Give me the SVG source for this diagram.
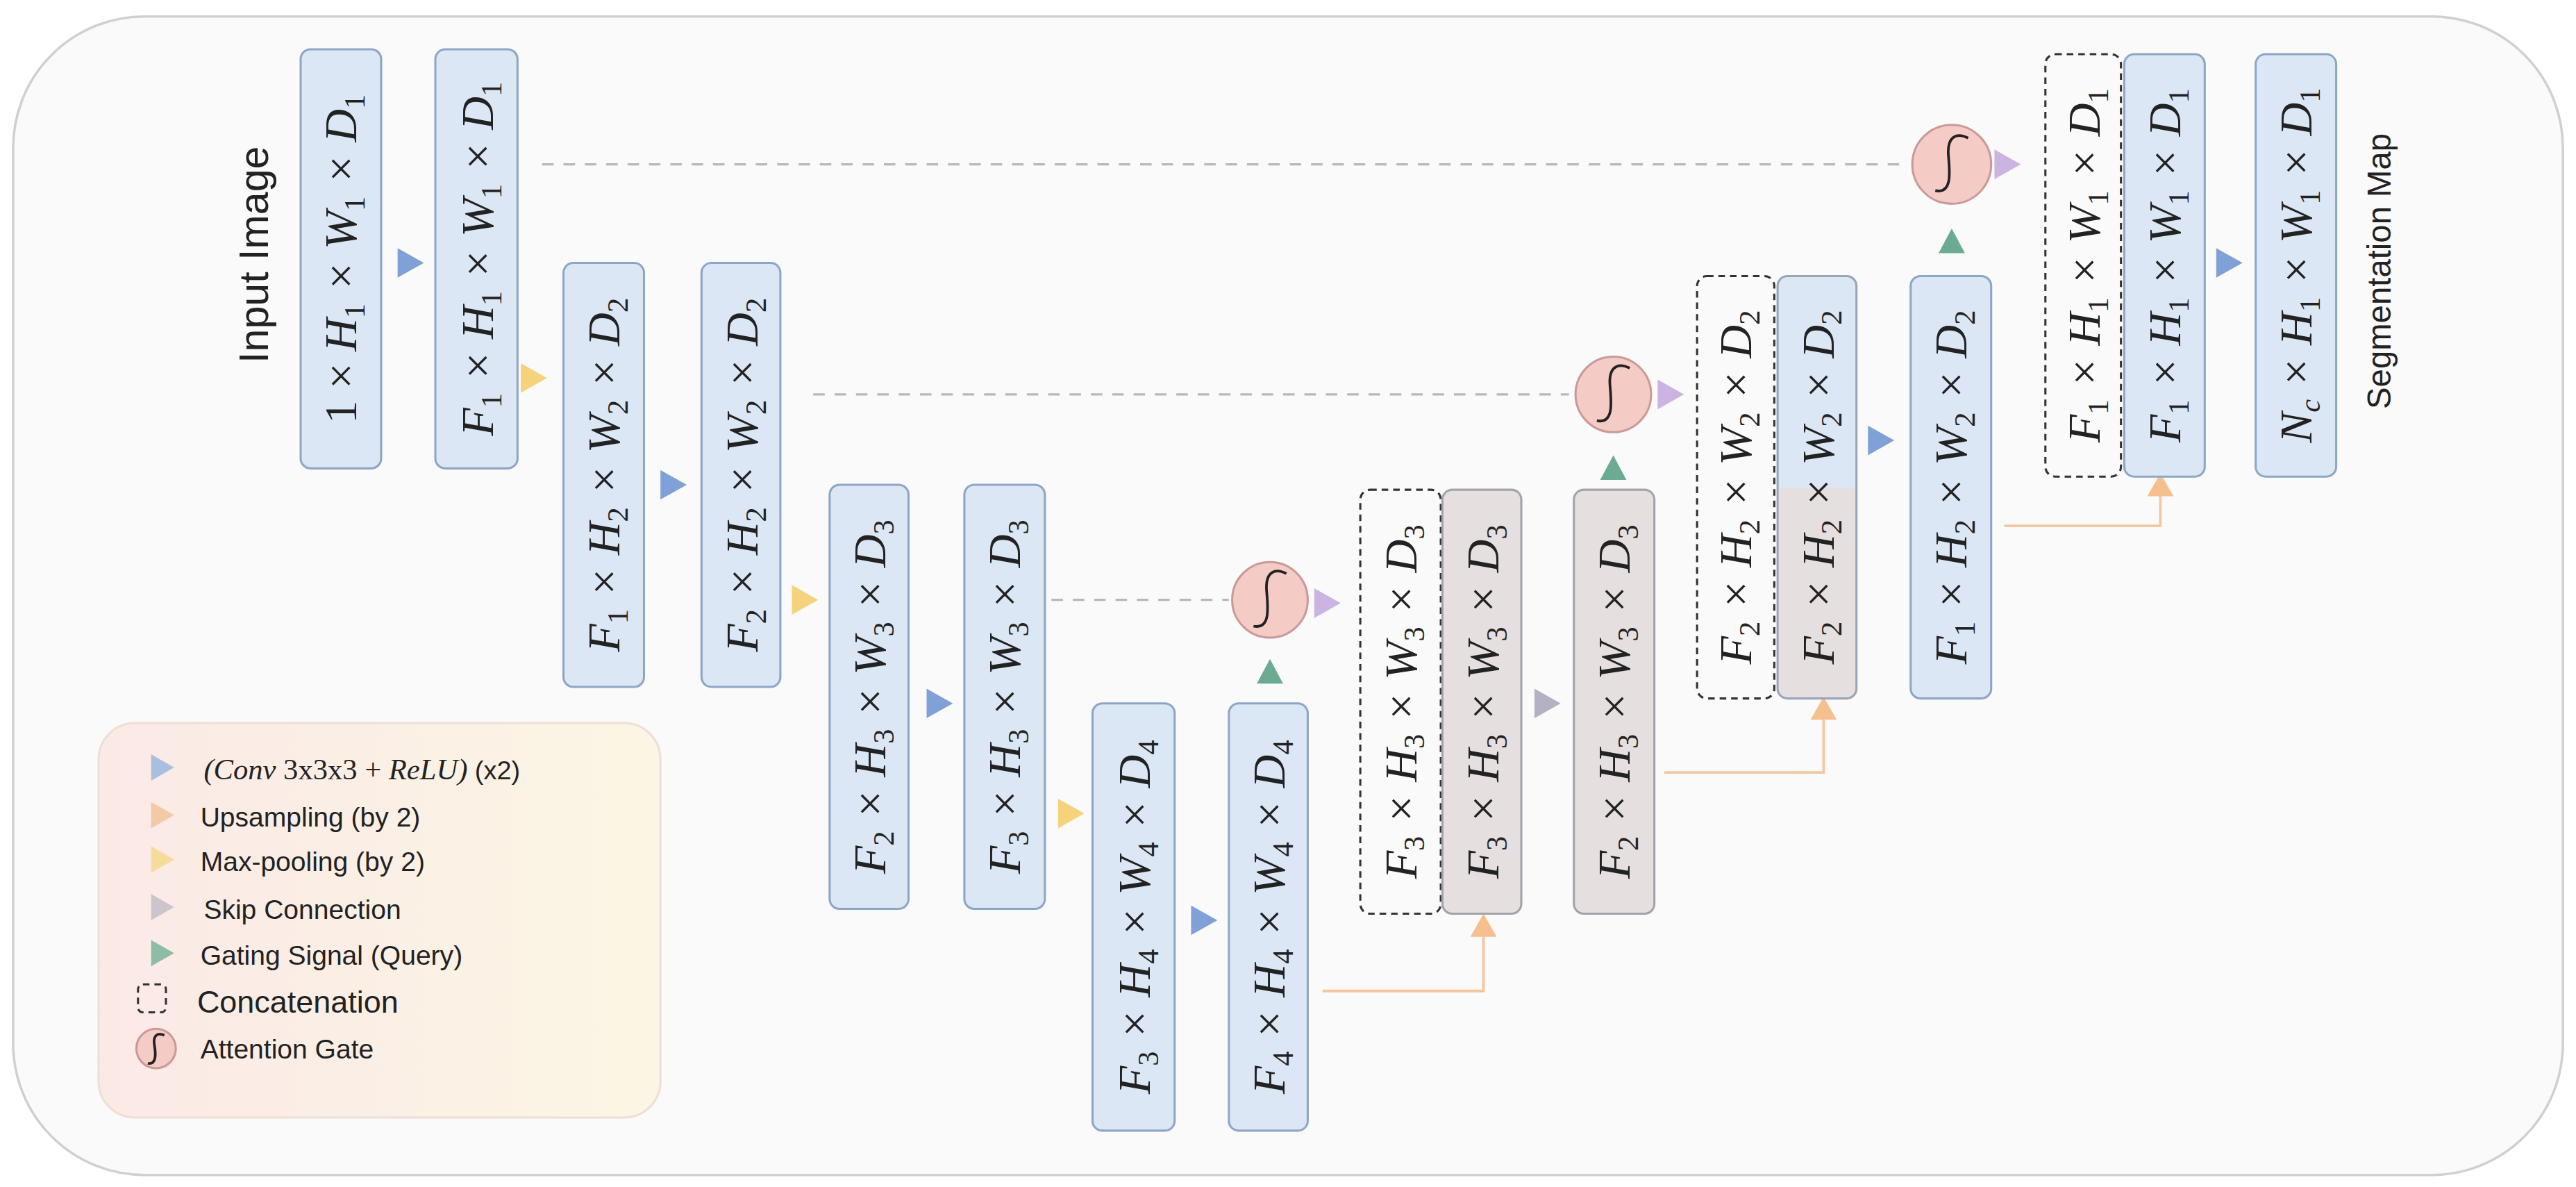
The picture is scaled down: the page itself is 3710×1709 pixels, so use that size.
<svg xmlns="http://www.w3.org/2000/svg" width="3710" height="1709" viewBox="0 0 3710 1709">
<defs>
<style>
.b{fill:#dbe7f5;stroke:#8ea6c6;stroke-width:1.3}
.g{fill:#e6dfdf;stroke:#a3a3ab;stroke-width:1.3}
.c{fill:none;stroke:#333;stroke-width:1.3;stroke-dasharray:4 3}
.t{font-family:"Liberation Serif",serif;font-style:italic;font-size:28px;fill:#222}
.s{font-size:18px;font-style:normal}
.n{font-style:normal}
.sf{font-family:"Liberation Sans",Arial,sans-serif;fill:#222}
.dl{stroke:#b8b8b8;stroke-width:1.3;stroke-dasharray:7 6;fill:none}
.up{stroke:#f3c8a0;stroke-width:1.6;fill:none}
.ag{fill:#f5cbc6;stroke:#c99a98;stroke-width:1.3}
.sc{fill:none;stroke:#222;stroke-width:1.6}
</style>
<linearGradient id="bg2" x1="0" y1="0" x2="0" y2="1"><stop offset="0.5" stop-color="#dbe7f5"/><stop offset="0.5" stop-color="#e6dfdf"/></linearGradient>
<linearGradient id="lg" x1="0" y1="0" x2="1" y2="0"><stop offset="0" stop-color="#fbe9e6"/><stop offset="1" stop-color="#fbf6e4"/></linearGradient>
</defs>
<rect width="3710" height="1709" fill="#fff"/>
<g transform="scale(2.3661)">
<rect x="8" y="10" width="1552" height="705" rx="80" fill="#fafafa" stroke="#d0d0d0" stroke-width="1.5"/>
<g id="connectors">
<path class="dl" d="M330 100H1160M495 240H955M640 365H748"/>
<path class="up" d="M805 603H903V568M1013 470H1110V436M1220 320H1315V300"/>
<g fill="#f5c08e"><path d="M895 570L903 556L911 570Z"/><path d="M1102 438L1110 424L1118 438Z"/><path d="M1307 302L1315 288L1323 302Z"/></g>
<g fill="#7fa1d8"><path d="M242 151L258 160L242 169Z"/><path d="M402 286L418 295L402 304Z"/><path d="M564 419L580 428L564 437Z"/><path d="M725 551L741 560L725 569Z"/><path d="M1137 259L1153 268L1137 277Z"/><path d="M1349 151L1365 160L1349 169Z"/></g>
<g fill="#f5d37c"><path d="M317 221L333 230L317 239Z"/><path d="M482 356L498 365L482 374Z"/><path d="M644 486L660 495L644 504Z"/></g>
<path fill="#b2b2c4" d="M934 419L950 428L934 437Z"/>
<g fill="#6aab92"><path d="M1180 154L1188 139L1196 154Z"/><path d="M974 292L982 277L990 292Z"/><path d="M765 416L773 401L781 416Z"/></g>
<g fill="#cbb3e2"><path d="M1214 91L1230 100L1214 109Z"/><path d="M1009 231L1025 240L1009 249Z"/><path d="M800 358L816 367L800 376Z"/></g>
</g>
<g id="gates">
<circle class="ag" cx="1188" cy="100" r="24"/><path class="sc" d="M1198 84C1190 80 1185 84 1186 95C1187 106 1188 118 1178 116"/>
<circle class="ag" cx="982" cy="240" r="23"/><path class="sc" d="M992 224C984 220 979 224 980 235C981 246 982 258 972 256"/>
<circle class="ag" cx="773" cy="365" r="23"/><path class="sc" d="M783 349C775 345 770 349 771 360C772 371 773 383 763 381"/>
</g>
<text class="sf" font-size="25" transform="translate(163,155) rotate(-90)" text-anchor="middle">Input Image</text>
<text class="sf" font-size="20" transform="translate(1455,165) rotate(-90)" text-anchor="middle">Segmentation Map</text>
<g id="n1"><rect class="b" x="183" y="30" width="49" height="255" rx="6"/><text class="t" text-anchor="middle" transform="translate(217,157.5) rotate(-90)"><tspan class="n">1 × </tspan>H<tspan class="s" dy="5">1</tspan><tspan dy="-5"> × W</tspan><tspan class="s" dy="5">1</tspan><tspan dy="-5"> × D</tspan><tspan class="s" dy="5">1</tspan></text></g>
<g id="n2"><rect class="b" x="265" y="30" width="50" height="255" rx="6"/><text class="t" text-anchor="middle" transform="translate(300,157.5) rotate(-90)">F<tspan class="s" dy="5">1</tspan><tspan dy="-5"> × H</tspan><tspan class="s" dy="5">1</tspan><tspan dy="-5"> × W</tspan><tspan class="s" dy="5">1</tspan><tspan dy="-5"> × D</tspan><tspan class="s" dy="5">1</tspan></text></g>
<g id="n3"><rect class="b" x="343" y="160" width="49" height="258" rx="6"/><text class="t" text-anchor="middle" transform="translate(377,289) rotate(-90)">F<tspan class="s" dy="5">1</tspan><tspan dy="-5"> × H</tspan><tspan class="s" dy="5">2</tspan><tspan dy="-5"> × W</tspan><tspan class="s" dy="5">2</tspan><tspan dy="-5"> × D</tspan><tspan class="s" dy="5">2</tspan></text></g>
<g id="n4"><rect class="b" x="427" y="160" width="48" height="258" rx="6"/><text class="t" text-anchor="middle" transform="translate(461,289) rotate(-90)">F<tspan class="s" dy="5">2</tspan><tspan dy="-5"> × H</tspan><tspan class="s" dy="5">2</tspan><tspan dy="-5"> × W</tspan><tspan class="s" dy="5">2</tspan><tspan dy="-5"> × D</tspan><tspan class="s" dy="5">2</tspan></text></g>
<g id="n5"><rect class="b" x="505" y="295" width="48" height="258" rx="6"/><text class="t" text-anchor="middle" transform="translate(539,424) rotate(-90)">F<tspan class="s" dy="5">2</tspan><tspan dy="-5"> × H</tspan><tspan class="s" dy="5">3</tspan><tspan dy="-5"> × W</tspan><tspan class="s" dy="5">3</tspan><tspan dy="-5"> × D</tspan><tspan class="s" dy="5">3</tspan></text></g>
<g id="n6"><rect class="b" x="587" y="295" width="49" height="258" rx="6"/><text class="t" text-anchor="middle" transform="translate(621,424) rotate(-90)">F<tspan class="s" dy="5">3</tspan><tspan dy="-5"> × H</tspan><tspan class="s" dy="5">3</tspan><tspan dy="-5"> × W</tspan><tspan class="s" dy="5">3</tspan><tspan dy="-5"> × D</tspan><tspan class="s" dy="5">3</tspan></text></g>
<g id="n7"><rect class="b" x="665" y="428" width="50" height="260" rx="6"/><text class="t" text-anchor="middle" transform="translate(700,558) rotate(-90)">F<tspan class="s" dy="5">3</tspan><tspan dy="-5"> × H</tspan><tspan class="s" dy="5">4</tspan><tspan dy="-5"> × W</tspan><tspan class="s" dy="5">4</tspan><tspan dy="-5"> × D</tspan><tspan class="s" dy="5">4</tspan></text></g>
<g id="n8"><rect class="b" x="748" y="428" width="48" height="260" rx="6"/><text class="t" text-anchor="middle" transform="translate(782,558) rotate(-90)">F<tspan class="s" dy="5">4</tspan><tspan dy="-5"> × H</tspan><tspan class="s" dy="5">4</tspan><tspan dy="-5"> × W</tspan><tspan class="s" dy="5">4</tspan><tspan dy="-5"> × D</tspan><tspan class="s" dy="5">4</tspan></text></g>
<g id="n9"><rect class="c" x="828" y="298" width="49" height="258" rx="6"/><text class="t" text-anchor="middle" transform="translate(862,427) rotate(-90)">F<tspan class="s" dy="5">3</tspan><tspan dy="-5"> × H</tspan><tspan class="s" dy="5">3</tspan><tspan dy="-5"> × W</tspan><tspan class="s" dy="5">3</tspan><tspan dy="-5"> × D</tspan><tspan class="s" dy="5">3</tspan></text></g>
<g id="n10"><rect class="g" x="878" y="298" width="48" height="258" rx="6"/><text class="t" text-anchor="middle" transform="translate(912,427) rotate(-90)">F<tspan class="s" dy="5">3</tspan><tspan dy="-5"> × H</tspan><tspan class="s" dy="5">3</tspan><tspan dy="-5"> × W</tspan><tspan class="s" dy="5">3</tspan><tspan dy="-5"> × D</tspan><tspan class="s" dy="5">3</tspan></text></g>
<g id="n11"><rect class="g" x="958" y="298" width="49" height="258" rx="6"/><text class="t" text-anchor="middle" transform="translate(992,427) rotate(-90)">F<tspan class="s" dy="5">2</tspan><tspan dy="-5"> × H</tspan><tspan class="s" dy="5">3</tspan><tspan dy="-5"> × W</tspan><tspan class="s" dy="5">3</tspan><tspan dy="-5"> × D</tspan><tspan class="s" dy="5">3</tspan></text></g>
<g id="n12"><rect class="c" x="1033" y="168" width="47" height="257" rx="6"/><text class="t" text-anchor="middle" transform="translate(1066,296.5) rotate(-90)">F<tspan class="s" dy="5">2</tspan><tspan dy="-5"> × H</tspan><tspan class="s" dy="5">2</tspan><tspan dy="-5"> × W</tspan><tspan class="s" dy="5">2</tspan><tspan dy="-5"> × D</tspan><tspan class="s" dy="5">2</tspan></text></g>
<g id="n13"><rect x="1082" y="168" width="48" height="257" rx="6" fill="url(#bg2)" stroke="#9aa6b8" stroke-width="1.3"/><text class="t" text-anchor="middle" transform="translate(1116,296.5) rotate(-90)">F<tspan class="s" dy="5">2</tspan><tspan dy="-5"> × H</tspan><tspan class="s" dy="5">2</tspan><tspan dy="-5"> × W</tspan><tspan class="s" dy="5">2</tspan><tspan dy="-5"> × D</tspan><tspan class="s" dy="5">2</tspan></text></g>
<g id="n14"><rect class="b" x="1163" y="168" width="49" height="257" rx="6"/><text class="t" text-anchor="middle" transform="translate(1197,296.5) rotate(-90)">F<tspan class="s" dy="5">1</tspan><tspan dy="-5"> × H</tspan><tspan class="s" dy="5">2</tspan><tspan dy="-5"> × W</tspan><tspan class="s" dy="5">2</tspan><tspan dy="-5"> × D</tspan><tspan class="s" dy="5">2</tspan></text></g>
<g id="n15"><rect class="c" x="1245" y="33" width="46" height="257" rx="6"/><text class="t" text-anchor="middle" transform="translate(1278,161.5) rotate(-90)">F<tspan class="s" dy="5">1</tspan><tspan dy="-5"> × H</tspan><tspan class="s" dy="5">1</tspan><tspan dy="-5"> × W</tspan><tspan class="s" dy="5">1</tspan><tspan dy="-5"> × D</tspan><tspan class="s" dy="5">1</tspan></text></g>
<g id="n16"><rect class="b" x="1293" y="33" width="49" height="257" rx="6"/><text class="t" text-anchor="middle" transform="translate(1327,161.5) rotate(-90)">F<tspan class="s" dy="5">1</tspan><tspan dy="-5"> × H</tspan><tspan class="s" dy="5">1</tspan><tspan dy="-5"> × W</tspan><tspan class="s" dy="5">1</tspan><tspan dy="-5"> × D</tspan><tspan class="s" dy="5">1</tspan></text></g>
<g id="n17"><rect class="b" x="1373" y="33" width="49" height="257" rx="6"/><text class="t" text-anchor="middle" transform="translate(1407,161.5) rotate(-90)">N<tspan class="s" style="font-style:italic" dy="5">c</tspan><tspan dy="-5"> × H</tspan><tspan class="s" dy="5">1</tspan><tspan dy="-5"> × W</tspan><tspan class="s" dy="5">1</tspan><tspan dy="-5"> × D</tspan><tspan class="s" dy="5">1</tspan></text></g>
<g id="legend">
<rect x="60" y="440" width="342" height="240" rx="22" fill="url(#lg)" stroke="#eedfd6" stroke-width="1.3"/>
<path fill="#a9bfe0" d="M92 459L106 467L92 475Z"/>
<path fill="#f3c9a6" d="M92 488L106 496L92 504Z"/>
<path fill="#f6dc98" d="M92 515L106 523L92 531Z"/>
<path fill="#ccc6cc" d="M92 544L106 552L92 560Z"/>
<path fill="#8fbca7" d="M92 572L106 580L92 588Z"/>
<rect class="c" x="84" y="599" width="17" height="17" rx="3"/>
<circle class="ag" cx="95" cy="638" r="12"/><path class="sc" d="M100 630C96 628 93 630 94 636C95 642 95 648 90 647"/>
<text x="124" y="474" font-family="Liberation Serif,serif" font-style="italic" font-size="18" fill="#222">(Conv <tspan font-style="normal">3x3x3 + </tspan>ReLU)<tspan class="sf" font-style="normal" font-size="16"> (x2)</tspan></text>
<g class="sf" font-size="16.5"><text x="122" y="503">Upsampling (by 2)</text><text x="122" y="530">Max-pooling (by 2)</text><text x="124" y="559">Skip Connection</text><text x="122" y="587">Gating Signal (Query)</text><text x="120" y="616" font-size="19">Concatenation</text><text x="122" y="644">Attention Gate</text></g>
</g>
</g>
</svg>
